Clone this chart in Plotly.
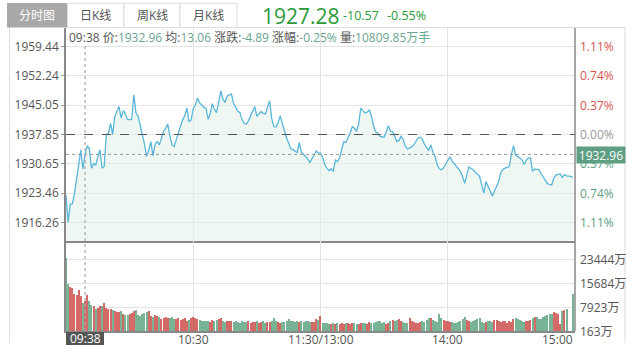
import plotly.graph_objects as go

# ---------------- data ----------------
price = [
    1923.0, 1916.3, 1920.8, 1920.9, 1923.5, 1927.5, 1931.0, 1934.1, 1929.4, 1932.96,
    1935.1, 1934.4, 1929.6, 1930.7, 1930.4, 1932.0, 1934.1, 1929.6, 1930.0, 1937.8,
    1938.2, 1940.6, 1937.9, 1942.3, 1943.5, 1944.7, 1941.9, 1943.7, 1942.9, 1941.5,
    1941.5, 1941.6, 1947.6, 1943.1, 1942.3, 1940.0, 1938.2, 1935.5, 1932.5, 1934.0,
    1936.1, 1932.6, 1935.5, 1936.1, 1935.3, 1937.2, 1938.6, 1939.4, 1940.4, 1937.5,
    1935.3, 1934.9, 1936.5, 1938.6, 1940.0, 1941.5, 1942.4, 1944.3, 1941.0, 1941.4,
    1944.3, 1945.0, 1946.8, 1945.6, 1945.1, 1944.5, 1944.3, 1941.6, 1943.0, 1945.4,
    1944.0, 1943.2, 1945.8, 1948.6, 1946.5, 1945.7, 1947.3, 1947.5, 1947.8, 1945.5,
    1944.7, 1943.6, 1943.2, 1941.5, 1940.6, 1940.4, 1941.2, 1942.4, 1943.5, 1944.7,
    1942.3, 1943.0, 1943.5, 1943.0, 1942.9, 1944.5, 1946.1, 1941.8, 1939.8, 1939.7,
    1940.8, 1942.4, 1940.5, 1939.0, 1937.0, 1935.7, 1934.3, 1934.2, 1933.9, 1933.4,
    1935.9, 1933.4, 1933.0, 1932.5, 1931.8, 1931.0, 1932.0, 1932.9, 1933.8, 1933.3,
    1933.3, 1932.3, 1930.5, 1929.6, 1929.0, 1929.4, 1928.8, 1931.6, 1931.2, 1932.1,
    1934.0, 1936.1, 1935.9, 1937.0, 1938.3, 1939.8, 1939.4, 1938.6, 1940.5, 1944.3,
    1943.6, 1943.1, 1943.3, 1943.9, 1942.4, 1940.0, 1938.5, 1938.2, 1937.4, 1937.3,
    1937.2, 1938.5, 1940.0, 1938.6, 1938.6, 1937.5, 1936.1, 1936.4, 1937.4, 1936.6,
    1935.0, 1934.3, 1934.5, 1934.8, 1935.3, 1936.3, 1937.0, 1937.2, 1936.7, 1935.5,
    1934.6, 1933.9, 1935.3, 1933.5, 1932.5, 1930.5, 1929.5, 1929.2, 1929.6, 1930.5,
    1931.6, 1932.4, 1931.4, 1930.8, 1930.0, 1929.4, 1928.8, 1927.5, 1925.9, 1928.0,
    1929.9, 1929.5, 1929.2, 1928.6, 1928.2, 1927.6, 1925.5, 1923.5, 1926.3, 1925.3,
    1924.0, 1922.8, 1923.9, 1925.0, 1926.3, 1928.5, 1929.3, 1929.6, 1929.8, 1930.0,
    1932.9, 1935.1, 1932.8, 1932.4, 1932.1, 1931.7, 1930.5, 1931.5, 1932.1, 1932.1,
    1928.8, 1929.4, 1929.3, 1929.2, 1928.3, 1927.4, 1926.5, 1925.8, 1925.6, 1925.5,
    1927.2, 1927.9, 1928.1, 1928.2, 1927.3, 1928.0, 1927.7, 1927.6, 1927.6, 1927.3,
]

volume = [
    24100, 15500, 14600, 14400, 12400, 12100, 13500, 11600, 9400, 9900,
    11900, 9900, 8800, 8300, 7500, 7700, 8500, 8500, 9300, 7700,
    7400, 7400, 7200, 6600, 6400, 6400, 6800, 5700, 5500, 5500,
    5700, 6000, 6600, 7100, 5500, 5200, 5700, 6000, 6400, 6600,
    5200, 4900, 5300, 5000, 4600, 4200, 4500, 4700, 4400, 4300,
    4600, 4100, 4000, 4400, 3900, 4100, 4500, 3600, 3800, 4300,
    4700, 4400, 4000, 3900, 3300, 3500, 3400, 3600, 3200, 3700,
    3400, 3800, 4200, 4500, 3300, 3100, 3600, 3400, 3300, 3000,
    3400, 3200, 2900, 3300, 3100, 3000, 3500, 2800, 3200, 3000,
    3400, 2900, 3100, 3300, 2800, 3000, 3200, 3600, 4400, 3300,
    3100, 2900, 3200, 3000, 3300, 4100, 3600, 3400, 3100, 3500,
    3200, 3300, 3000, 3400, 3500, 3200, 3000, 3100, 4200, 3900,
    5200, 2900, 2700, 2800, 2500, 2600, 2800, 2500, 2700, 2600,
    2800, 2500, 2700, 2900, 2600, 2800, 2900, 2600, 2500, 2700,
    2900, 2800, 2600, 3000, 2900, 2700, 3100, 3400, 3300, 2800,
    3000, 2600, 2700, 3300, 3700, 3600, 3900, 4200, 3400, 3000,
    2900, 2800, 4500, 3600, 3200, 2700, 2900, 3100, 3500, 3200,
    3900, 4300, 4400, 3700, 3400, 3200, 5600, 4400, 3800, 3500,
    3300, 3100, 3000, 2800, 2900, 3200, 3600, 4100, 4600, 3900,
    3300, 3000, 3600, 3800, 4100, 4500, 3200, 2800, 3000, 3500,
    3400, 3200, 3900, 3700, 3400, 3100, 3300, 3600, 2800, 3500,
    3000, 4000, 4400, 4200, 3800, 3300, 3000, 3600, 3500, 3900,
    4400, 4800, 4700, 4200, 4000, 4600, 5000, 5300, 5600, 5900,
    6400, 6200, 5900, 2400, 6600, 7000, 7400, 0, 0, 12400,
]

minutes = list(range(len(price)))

prev_close = 1937.85
cross_price = 1932.96
cross_index = 9
cross_time = "09:38"

left_ticks = [1916.26, 1923.46, 1930.65, 1937.85, 1945.05, 1952.24, 1959.44]
right_pct = ["1.11%", "0.74%", "0.37%", "0.00%", "0.37%", "0.74%", "1.11%"]
vol_ticks = [163, 7923, 15684, 23444]
vol_labels = ["163万", "7923万", "15684万", "23444万"]
time_ticks = [60, 120, 180, 240]
time_labels = ["10:30", "11:30/13:00", "14:00", "15:00"]
tabs = ["分时图", "日K线", "周K线", "月K线"]

header_price = "1927.28"
header_change = "-10.57"
header_pct = "-0.55%"
info_time = "09:38"
info_vals = [("价", "1932.96"), ("均", "13.06"), ("涨跌", "-4.89"), ("涨幅", "-0.25%"), ("量", "10809.85万手")]

# ---------------- styling ----------------
W, H = 639, 360
L, R, T, B = 66, 575, 28, 331
FONT = "Open Sans, Noto Sans CJK SC, sans-serif"
LINE = "#5ab6d9"
FILL = "rgba(225,240,232,0.55)"
RED = "#d9534f"
GREEN = "#5e9e82"
BAR_RED = "#cf5a57"
BAR_GREEN = "#6aab8a"
TXT = "#555555"
GRID = "#e4e4e4"
AXIS = "#9a9a9a"


def px(x):
    return (x - L) / (R - L)


def py(y):
    return (B - y) / (B - T)


split = py(241)

bar_colors = []
for i, v in enumerate(volume):
    if i == 0:
        bar_colors.append(BAR_GREEN if price[0] < prev_close else BAR_RED)
    elif price[i] >= price[i - 1]:
        bar_colors.append(BAR_RED)
    else:
        bar_colors.append(BAR_GREEN)

fig = go.Figure()
fig.add_trace(go.Scatter(
    x=minutes, y=price, mode="lines", line=dict(color=LINE, width=1.3),
    fill="tozeroy", fillcolor=FILL, xaxis="x", yaxis="y", hoverinfo="skip"))
fig.add_trace(go.Bar(
    x=minutes, y=volume, marker=dict(color=bar_colors, line=dict(width=0)),
    opacity=0.9, width=0.48, xaxis="x2", yaxis="y2", hoverinfo="skip"))

fig.update_layout(
    width=W, height=H, paper_bgcolor="white", plot_bgcolor="white",
    margin=dict(l=L, r=W - R, t=T, b=H - B, autoexpand=False), showlegend=False, bargap=0,
    font=dict(family=FONT, size=12, color=TXT),
    xaxis=dict(domain=[0, 1], range=[0, 240], anchor="y", tickvals=time_ticks, automargin=False,
               showticklabels=False, showgrid=True, gridcolor=GRID, gridwidth=1,
               zeroline=False, showline=True, linecolor="#888", linewidth=1.5, mirror=False),
    yaxis=dict(domain=[split, 1], range=[1911.75, 1963.95], tickvals=left_ticks, automargin=False,
               ticktext=[f"{v:.2f}" for v in left_ticks], ticks="outside", ticklen=3,
               tickcolor=AXIS, showgrid=True, gridcolor=GRID, zeroline=False,
               showline=True, linecolor="#888", linewidth=1.5,
               tickfont=dict(family=FONT, size=12, color=TXT)),
    xaxis2=dict(domain=[0, 1], range=[0, 240], anchor="y2", matches="x", tickvals=time_ticks,
                automargin=False, showticklabels=False, showgrid=True, gridcolor=GRID,
                zeroline=False, showline=True, linecolor="#888", linewidth=1.5),
    yaxis2=dict(domain=[0, split], range=[163, 29670], tickvals=vol_ticks, automargin=False,
                showticklabels=False, showgrid=True, gridcolor=GRID, zeroline=False,
                showline=True, linecolor="#888", linewidth=1.5),
)

shapes = []
# right axis line
shapes.append(dict(type="line", xref="paper", yref="paper", x0=1, x1=1, y0=0, y1=1,
                   line=dict(color="#888", width=1.5)))
# outer frame
shapes.append(dict(type="line", xref="paper", yref="paper", x0=px(9.5), x1=px(9.5),
                   y0=py(343), y1=py(27), line=dict(color="#dddddd", width=1)))
shapes.append(dict(type="line", xref="paper", yref="paper", x0=px(625), x1=px(625),
                   y0=py(343), y1=py(27), line=dict(color="#dddddd", width=1)))
shapes.append(dict(type="line", xref="paper", yref="paper", x0=px(67), x1=px(625),
                   y0=py(27.5), y1=py(27.5), line=dict(color="#dddddd", width=1)))
# prev close dashed line
shapes.append(dict(type="line", xref="paper", yref="y", x0=0, x1=1, y0=prev_close, y1=prev_close,
                   line=dict(color="#555", width=1, dash="dash")))
# crosshair horizontal dotted
shapes.append(dict(type="line", xref="paper", yref="y", x0=0, x1=1, y0=cross_price, y1=cross_price,
                   line=dict(color="#999", width=1, dash="dot")))
# crosshair vertical dotted
shapes.append(dict(type="line", xref="x", yref="paper", x0=cross_index, x1=cross_index,
                   y0=0, y1=py(46), line=dict(color="#aaa", width=1.2, dash="dot")))
# tabs
tab_edges = [(7, 67.5), (67.5, 124), (124, 180), (180, 237)]
for k, (a, b) in enumerate(tab_edges):
    if k == 0:
        shapes.append(dict(type="rect", xref="paper", yref="paper", x0=px(a), x1=px(b),
                           y0=py(27.5), y1=py(3), fillcolor="#a8a8a8", line=dict(width=0)))
    else:
        shapes.append(dict(type="rect", xref="paper", yref="paper", x0=px(a), x1=px(b),
                           y0=py(27.5), y1=py(3.3), fillcolor="white",
                           line=dict(color="#dddddd", width=1)))
# time crosshair label box
shapes.append(dict(type="rect", xref="paper", yref="paper", x0=px(66), x1=px(104),
                   y0=py(345), y1=py(332), fillcolor="#555555", line=dict(width=0)))
fig.update_layout(shapes=shapes)

ann = []
# tab labels
for k, (a, b) in enumerate(tab_edges):
    ann.append(dict(xref="paper", yref="paper", x=px((a + b) / 2), y=py(15.5), text=tabs[k],
                    showarrow=False, xanchor="center", yanchor="middle",
                    font=dict(family=FONT, size=12, color="white" if k == 0 else TXT)))
# header price
ann.append(dict(xref="paper", yref="paper", x=px(260), y=py(16), text=header_price,
                showarrow=False, xanchor="left", yanchor="middle",
                font=dict(family=FONT, size=21, color="#2a9a3a")))
ann.append(dict(xref="paper", yref="paper", x=px(341), y=py(15), text=header_change,
                showarrow=False, xanchor="left", yanchor="middle",
                font=dict(family=FONT, size=12.5, color="#2a9a3a")))
ann.append(dict(xref="paper", yref="paper", x=px(385), y=py(15), text=header_pct,
                showarrow=False, xanchor="left", yanchor="middle",
                font=dict(family=FONT, size=12.5, color="#2a9a3a")))
# info row
info = f"<span style='color:#555'>{info_time} </span>"
info += " ".join(f"<span style='color:#555'>{k}:</span><span style='color:#6aa592'>{v}</span>"
                 for k, v in info_vals)
ann.append(dict(xref="paper", yref="paper", x=px(67), y=py(37), text=info,
                showarrow=False, xanchor="left", yanchor="middle",
                font=dict(family=FONT, size=12, color=TXT)))
# right percent labels
for v, t in zip(reversed(left_ticks), right_pct):
    if abs(v - prev_close) < 0.01:
        col = "#999999"
    elif v > prev_close:
        col = RED
    else:
        col = GREEN
    ann.append(dict(xref="paper", yref="y", x=px(578), y=v, text=t, showarrow=False,
                    xanchor="left", yanchor="middle", font=dict(family=FONT, size=12, color=col)))
# crosshair price label (drawn on top, covers part of the label below it)
ann.append(dict(xref="paper", yref="paper", x=px(575.5), y=py(155), text=f"{cross_price:.2f}",
                showarrow=False, xanchor="left", yanchor="middle", bgcolor=GREEN,
                width=46, height=14, borderpad=1, align="center",
                font=dict(family=FONT, size=12, color="white")))
# volume labels
for v, t in zip(vol_ticks, vol_labels):
    ann.append(dict(xref="paper", yref="y2", x=px(578), y=v, text=t, showarrow=False,
                    xanchor="left", yanchor="middle", font=dict(family=FONT, size=12, color=TXT)))
# time labels
for v, t in zip(time_ticks, time_labels):
    anchor = "right" if v == 240 else "center"
    ann.append(dict(xref="x2", yref="paper", x=v, y=py(339), text=t, showarrow=False,
                    xanchor=anchor, yanchor="middle", font=dict(family=FONT, size=12, color=TXT)))
ann.append(dict(xref="paper", yref="paper", x=px(85), y=py(338.5), text=cross_time,
                showarrow=False, xanchor="center", yanchor="middle",
                font=dict(family=FONT, size=12, color="white")))
fig.update_layout(annotations=ann)

fig.write_html("out.html", config={"displayModeBar": False},
               post_script="document.body.style.margin='0';document.body.style.padding='0';")
